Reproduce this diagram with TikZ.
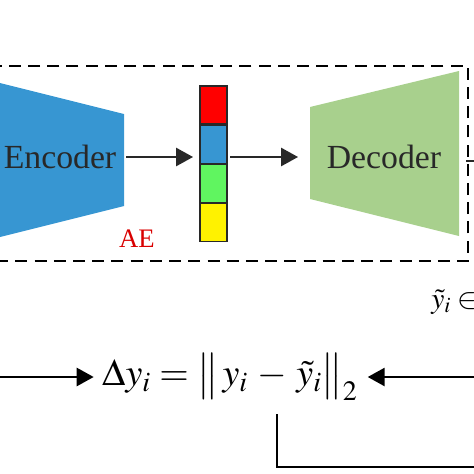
\documentclass[tikz,border=0pt]{standalone}
\usepackage{mathptmx}
\usepackage{fontspec}
\setmainfont{Liberation Serif}
\usetikzlibrary{arrows.meta,positioning}

\definecolor{encblue}{RGB}{55,150,210}
\definecolor{decgreen}{RGB}{168,208,141}
\definecolor{zgreen}{RGB}{96,245,96}
\definecolor{darktext}{RGB}{40,40,40}

\begin{document}
\begin{tikzpicture}[x=0.025cm,y=-0.025cm,
	arr/.style={-{Triangle[length=12pt,width=13pt]},line width=1.1pt},
	cell/.style={draw=darktext,line width=0.8pt,minimum width=0.675cm,minimum height=0.95cm,inner sep=0pt}]

			\useasboundingbox (0,0) rectangle (474,474);

			%autoencoder box
			\draw[line width=2pt,dash pattern=on 0.3cm off 0.18cm] (-20,66) rectangle (468,261);

			%encoder
			\fill[encblue] (-20,78) -- (124,114) -- (124,206) -- (-20,242) -- cycle;
			\node[text=darktext,font=\fontsize{24}{28}\selectfont] (enc) at (60,157) {Encoder};

			%latent code
			\node[cell,fill=red] (z1) at (213.5,105) {};
			\node[cell,fill=encblue,below=0pt of z1] (z2) {};
			\node[cell,fill=zgreen,below=0pt of z2] (z3) {};
			\node[cell,fill=yellow,below=0pt of z3] (z4) {};
			\node[text=red!85!black,font=\fontsize{19}{22}\selectfont] (ae) at (137,239) {AE};

			%decoder
			\fill[decgreen] (310,107) -- (459,71) -- (459,236) -- (310,199) -- cycle;
			\node[text=darktext,font=\fontsize{24}{28}\selectfont] (dec) at (384,157) {Decoder};
			\coordinate (out) at (474,161);
			\draw[darktext,line width=1pt] (466,161) -- (out);

			%edges
			\draw[arr,darktext] (126,157) -- (193,157);
			\draw[arr,darktext] (230,157) -- (298,157);

			%loss
			\node[font=\fontsize{27}{32}\selectfont,inner sep=0pt] (loss) at (230,377) {$\Delta y_i = \bigl\|\, y_i \,-\, \tilde{y}_i \bigr\|_2$};
			\node[font=\fontsize{21}{25}\selectfont,anchor=west,inner sep=0pt] (yt) at (431,302) {$\tilde{y}_i \in$};
			\coordinate (lin) at (0,377);
			\coordinate (rin) at (474,377);
			\coordinate (fb) at (474,467);
			\draw[arr] (lin) -- ([xshift=-6pt]loss.west);
			\draw[arr] (rin) -- ([xshift=7pt]loss.east);
			\draw[line width=1.1pt] (277,414) |- (fb);
		\end{tikzpicture}
\end{document}
